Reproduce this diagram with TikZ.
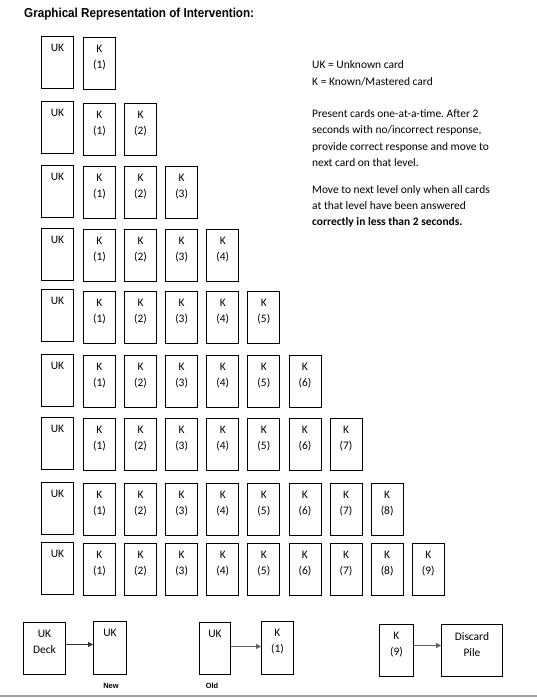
\documentclass[tikz,border=0pt]{standalone}
\usepackage{fontspec}
\usepackage{graphicx}
\setmainfont{Carlito}
\newfontfamily\titlefont{Liberation Sans}
\usetikzlibrary{arrows.meta}
\frenchspacing
\begin{document}
\begin{tikzpicture}[x=1bp,y=-1bp,
  card/.style={draw, line width=0.9bp, minimum width=32bp, minimum height=52bp, inner sep=0, anchor=north west},
  ctext/.style={anchor=north, yshift=-8.3bp, inner sep=0, align=center, font=\fontsize{11.5}{16}\selectfont},
  flow/.style={-{Triangle[length=5bp,width=5bp]}, line width=1.3bp, draw=black!62, fill=black!80},
  info/.style={anchor=north west, inner sep=0, align=left},
  tag/.style={inner sep=0, font=\titlefont\bfseries\fontsize{7.5}{9}\selectfont}]
\useasboundingbox (0,0) rectangle (537,698);

% title
\node[anchor=base west, inner sep=0, font=\titlefont\bfseries\fontsize{13}{15}\selectfont] (title) at (24,17.5) {\scalebox{0.9}[1]{Graphical Representation of Intervention:}};

% rows of cards
\foreach \ut/\kt [count=\n] in {36/37,101/103,165/166,228/229,289/291,354/355,417/418,482/483,542/543} {
  \node[card, label={[ctext]north:UK}] (uk\n) at (41,\ut) {};
  \foreach \c in {1,...,\n} {
    \pgfmathsetmacro\cx{83+41.1*(\c-1)}
    \node[card, label={[ctext]north:K\\(\c)}] (k\n-\c) at (\cx,\kt) {};
  }
}

% explanation
\node[info, font=\fontsize{11.5}{17}\selectfont] (legend) at (312,60) {UK = Unknown card\\K = Known/Mastered card};
\node[info, font=\fontsize{11.5}{16.2}\selectfont] (rule1) at (312,109.7) {Present cards one-at-a-time. After 2\\seconds with no/incorrect response,\\provide correct response and move to\\next card on that level.};
\node[info, font=\fontsize{11.5}{16}\selectfont] (rule2) at (312,185.7) {Move to next level only when all cards\\at that level have been answered\\\textbf{correctly in less than 2 seconds.}};

% bottom flow
\node[card, minimum width=42bp, label={[ctext]north:UK\\Deck}] (deck) at (23,622) {};
\node[card, minimum width=33bp, minimum height=53bp, label={[ctext]north:UK}] (new) at (93,621) {};
\node[tag] (newtag) at (111,686) {New};
\draw[flow, draw=black!80] ([yshift=4bp]deck.east) -- ([yshift=4bp]deck.east -| new.west);

\node[card, minimum width=31bp, label={[ctext]north:UK}] (old) at (199,622) {};
\node[card, minimum width=32bp, minimum height=53bp, label={[ctext]north:K\\(1)}] (one) at (261,621) {};
\node[tag] (oldtag) at (212,686) {Old};
\draw[flow] ([yshift=2bp]old.east) -- ([yshift=2bp]old.east -| one.west);

\node[card, minimum width=34bp, label={[ctext]north:K\\(9)}] (nine) at (379,624) {};
\node[card, minimum width=61bp, label={[ctext]north:Discard\\Pile}] (pile) at (441,624) {};
\draw[flow] ([yshift=5bp]nine.east) -- ([yshift=5bp]nine.east -| pile.west);

% page rule
\draw[line width=1.5bp, draw={rgb,255:red,160;green,164;blue,170}] (0,696) -- (537,696);
\end{tikzpicture}
\end{document}
